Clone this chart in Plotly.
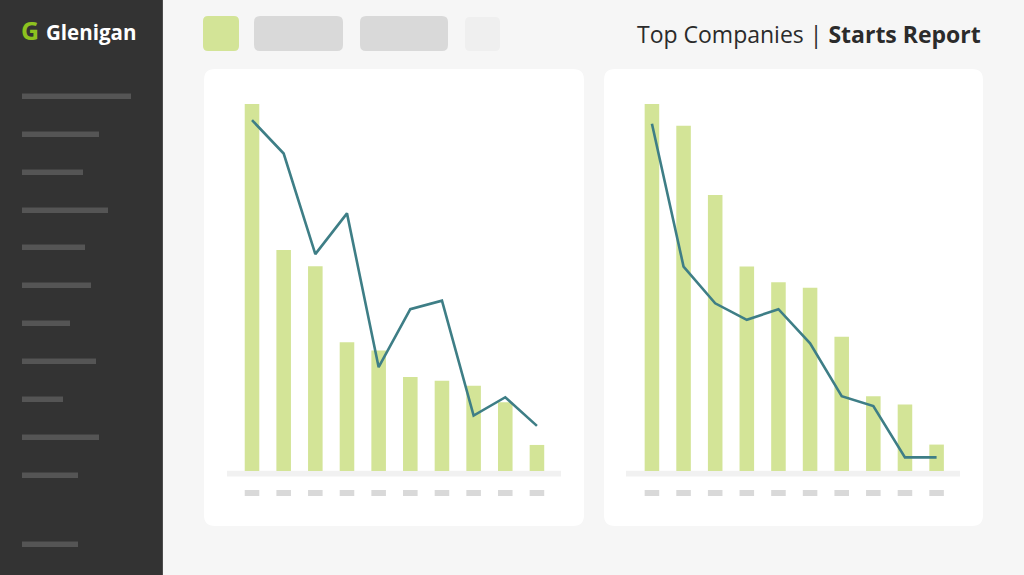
import plotly.graph_objects as go

W, H = 1024, 575

# ---------------- data ----------------
categories = list(range(10))
left_bars = [100, 60.2, 55.8, 35.1, 32.8, 25.6, 24.6, 23.2, 18.7, 7.1]
left_line = [95.6, 86.5, 59.1, 70.2, 28.3, 44.1, 46.4, 15.1, 20.1, 12.3]
right_bars = [100, 94.1, 75.2, 55.7, 51.4, 49.9, 36.6, 20.4, 18.1, 7.2]
right_line = [94.6, 55.7, 45.7, 41.2, 44.1, 34.8, 20.4, 17.7, 3.7, 3.7]
menu_widths = [109, 77, 61, 86, 63, 69, 48, 74, 41, 77, 56, 56]
menu_ys = [96, 134, 172, 210, 247, 285, 323, 361, 399, 437, 475, 544]

BAR = "#d3e497"
LINE = "#3e7e86"


def px(x):
    return x / W


def py(y):
    return 1 - y / H


def rrect(x0, y0, x1, y1, r, color):
    rx, ry = r / W, r / H
    X0, X1 = px(x0), px(x1)
    Y0, Y1 = py(y1), py(y0)  # bottom, top in paper
    path = (
        f"M {X0+rx},{Y0} L {X1-rx},{Y0} Q {X1},{Y0} {X1},{Y0+ry} "
        f"L {X1},{Y1-ry} Q {X1},{Y1} {X1-rx},{Y1} "
        f"L {X0+rx},{Y1} Q {X0},{Y1} {X0},{Y1-ry} "
        f"L {X0},{Y0+ry} Q {X0},{Y0} {X0+rx},{Y0} Z"
    )
    return dict(type="path", xref="paper", yref="paper", path=path,
                fillcolor=color, line=dict(width=0), layer="below")


def rect(x0, y0, x1, y1, color, layer="below"):
    return dict(type="rect", xref="paper", yref="paper",
                x0=px(x0), x1=px(x1), y0=py(y1), y1=py(y0),
                fillcolor=color, line=dict(width=0), layer=layer)


fig = go.Figure()

fig.add_trace(go.Bar(x=categories, y=left_bars, width=0.46, marker=dict(color=BAR, line=dict(width=0)),
                     xaxis="x", yaxis="y", hoverinfo="skip"))
fig.add_trace(go.Scatter(x=categories, y=left_line, mode="lines", line=dict(color=LINE, width=2.6),
                         xaxis="x", yaxis="y", hoverinfo="skip"))
fig.add_trace(go.Bar(x=categories, y=right_bars, width=0.46, marker=dict(color=BAR, line=dict(width=0)),
                     xaxis="x2", yaxis="y2", hoverinfo="skip"))
fig.add_trace(go.Scatter(x=categories, y=right_line, mode="lines", line=dict(color=LINE, width=2.6),
                         xaxis="x2", yaxis="y2", hoverinfo="skip"))

shapes = []
# sidebar
shapes.append(rect(0, 0, 162, 575, "#333333"))
shapes.append(rect(162, 0, 163, 575, "#4d4d4d"))
for w, y in zip(menu_widths, menu_ys):
    shapes.append(rect(22, y - 2.5, 22 + w, y + 3, "#555555"))
# top buttons
shapes.append(rrect(203, 16, 239, 51, 5, BAR))
shapes.append(rrect(254, 16, 343, 51, 6, "#d9d9d9"))
shapes.append(rrect(360, 16, 448, 51, 6, "#d9d9d9"))
shapes.append(rrect(465, 17, 500, 51, 5, "#efefef"))
# cards
shapes.append(rrect(204, 69, 584, 526, 11, "#ffffff"))
shapes.append(rrect(604, 69, 983, 526, 11, "#ffffff"))
# baselines
for ax in ["x", "x2"]:
    shapes.append(dict(type="rect", xref=f"{ax} domain", yref="paper", x0=0, x1=1,
                       y0=py(476.5), y1=py(470.8), fillcolor="#f1f1f1",
                       line=dict(width=0), layer="below"))
    for c in categories:
        shapes.append(dict(type="rect", xref=ax, yref="paper", x0=c - 0.23, x1=c + 0.23,
                           y0=py(496), y1=py(490), fillcolor="#d9d9d9",
                           line=dict(width=0), layer="below"))

y_dom = [py(471), py(104)]
axis_common = dict(showgrid=False, zeroline=False, showticklabels=False, showline=False,
                   ticks="", fixedrange=True)

fig.update_layout(
    width=W, height=H,
    margin=dict(l=0, r=0, t=0, b=0),
    paper_bgcolor="#f6f6f6",
    plot_bgcolor="rgba(0,0,0,0)",
    showlegend=False,
    barmode="overlay",
    xaxis=dict(domain=[px(227), px(561)], range=[-0.79, 9.76], **axis_common),
    yaxis=dict(domain=y_dom, range=[0, 100], **axis_common),
    xaxis2=dict(domain=[px(626), px(960)], range=[-0.82, 9.74], **axis_common),
    yaxis2=dict(domain=y_dom, range=[0, 100], anchor="x2", **axis_common),
    shapes=shapes,
    annotations=[
        dict(text="Top Companies | <b>Starts Report</b>", xref="paper", yref="paper",
             x=px(983), y=py(34), xanchor="right", yanchor="middle", showarrow=False,
             font=dict(family="Open Sans", size=23, color="#2b2b2b")),
        dict(text="<b>G</b>", xref="paper", yref="paper",
             x=px(19), y=py(30.5), xanchor="left", yanchor="middle", showarrow=False,
             font=dict(family="Open Sans", size=25, color="#8dc21f")),
        dict(text="<b>Glenigan</b>", xref="paper", yref="paper",
             x=px(44), y=py(31.5), xanchor="left", yanchor="middle", showarrow=False,
             font=dict(family="Open Sans", size=20.5, color="#ffffff")),
    ],
)
fig.layout.xaxis2.anchor = "y2"

fig.write_html("out.html", config=dict(displayModeBar=False, staticPlot=True))
